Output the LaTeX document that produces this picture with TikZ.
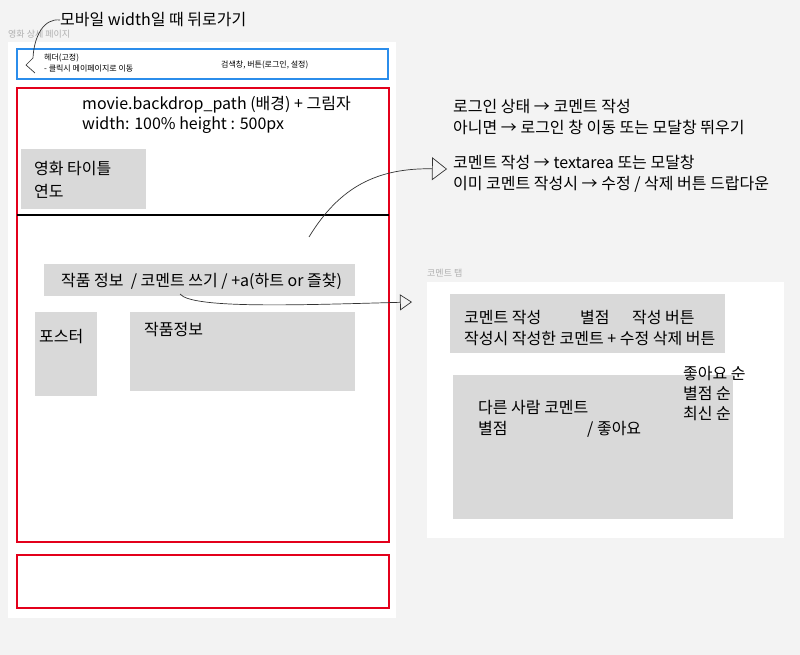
\documentclass[tikz,border=0pt]{standalone}
\usepackage{fontspec}
\setmainfont{Noto Sans CJK KR}
\usetikzlibrary{arrows.meta}
\definecolor{bg}{HTML}{F3F3F3}
\definecolor{boxgray}{HTML}{D9D9D9}
\definecolor{figred}{HTML}{E3001B}
\definecolor{figblue}{HTML}{2B8DEB}
\definecolor{lblgray}{HTML}{B0B0B0}
\definecolor{ink}{HTML}{333333}
\begin{document}
\begin{tikzpicture}[x=1pt,y=-1pt,
  txt/.style={anchor=west, inner sep=0pt, align=left, font=\fontsize{16}{20.5}\selectfont},
  small/.style={anchor=west, inner sep=0pt, align=left, font=\fontsize{8}{11}\selectfont},
  lbl/.style={anchor=west, inner sep=0pt, text=lblgray, font=\fontsize{9}{11}\selectfont},
  graybox/.style={fill=boxgray, draw=none},
  redbox/.style={draw=figred, line width=1.3pt},
  sketch/.style={draw=ink, line width=0.7pt},
  bigtip/.style={-{Triangle[open, length=15pt, width=23pt, line width=0.7pt]}},
  smalltip/.style={-{Triangle[open, length=12pt, width=16pt, line width=0.7pt]}}
]
\useasboundingbox (0,0) rectangle (800,655);
\fill[bg] (0,0) rectangle (800,655);

% left page
\node[lbl] (pagelbl) at (8,34) {영화 상세 페이지};
\fill[white] (8,42) rectangle (396,618);
\draw[figblue, line width=2pt] (17,49) rectangle (388,79);
\node[small] (hdr) at (44,63.5) {헤더(고정)\\- 클릭시 메이페이지로 이동};
\node[small] (hdrright) at (221,65) {검색창, 버튼(로그인, 설정)};

\node[txt] (title) at (60,20) {모바일 width일 때 뒤로가기};
\coordinate (chev) at (33,58);
\draw[sketch] (title.west) .. controls (44,18) and (34,36) .. (chev) -- (26,65) -- (35,73);

\draw[redbox] (17,88) rectangle (389,542);
\draw[redbox] (17,555) rectangle (389,608);
\draw[black, line width=1.3pt] (17,215) -- (389,215);

\node[txt] (backdrop) at (82,115) {movie.backdrop\_path (배경) + 그림자\\width: 100\% height : 500px};

\fill[graybox] (21,149) rectangle (146,209);
\node[txt, font=\fontsize{16}{22.5}\selectfont] (movtitle) at (34,180) {영화 타이틀\\연도};

\fill[graybox] (44,264) rectangle (355,296);
\node[txt] (tabs) at (61,281) {작품 정보\ \ / 코멘트 쓰기 / +a(하트 or 즐찾)};

\fill[graybox] (35,312) rectangle (97,396);
\node[txt] (poster) at (39,337) {포스터};
\fill[graybox] (130,312) rectangle (355,391);
\node[txt] (info) at (144,330) {작품정보};

% right notes
\node[txt] (note1) at (453,117) {로그인 상태 → 코멘트 작성\\아니면 → 로그인 창 이동 또는 모달창 뛰우기};
\node[txt] (note2) at (453,174) {코멘트 작성 → textarea 또는 모달창\\이미 코멘트 작성시 → 수정 / 삭제 버튼 드랍다운};

% comment tab
\node[lbl] (tablbl) at (427,273) {코멘트 탭};
\fill[white] (427,282) rectangle (784,538);
\fill[graybox] (450,294) rectangle (725,353);
\node[txt] (write) at (464,328) {\makebox[116pt][l]{코멘트 작성}\makebox[52pt][l]{별점}작성 버튼\\작성시 작성한 코멘트 + 수정 삭제 버튼};
\fill[graybox] (453,375) rectangle (733,519);
\node[txt] (others) at (478,419) {다른 사람 코멘트\\\makebox[109pt][l]{별점}/ 좋아요};
\node[txt, font=\fontsize{16}{20}\selectfont] (sort) at (683,394) {좋아요 순\\별점 순\\최신 순};

% connectors
\coordinate (c1s) at (309,237);
\coordinate (c1e) at (447,169);
\draw[sketch, bigtip] (c1s) .. controls (340,186) and (378,168) .. (c1e);
\coordinate (c2s) at (180,294);
\coordinate (c2e) at (412,302);
\draw[sketch, smalltip] (c2s) .. controls (192,309) and (300,305) .. (c2e);
\end{tikzpicture}
\end{document}
